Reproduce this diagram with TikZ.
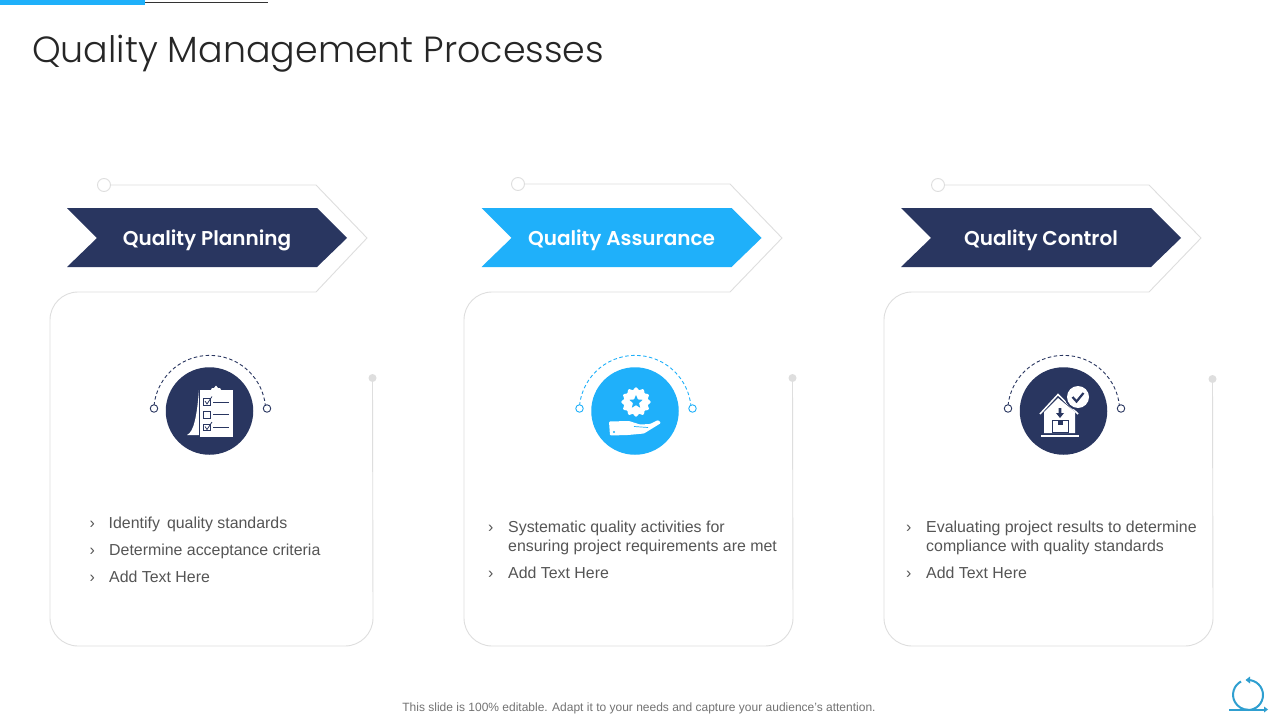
\documentclass[tikz,border=0pt]{standalone}
\usepackage{fontspec}
\setmainfont{Liberation Sans}
\newfontfamily\titlefont[UprightFont=* Light]{Poppins}
\newfontfamily\headfont[UprightFont=* SemiBold]{Poppins}
\usetikzlibrary{shapes.geometric}
\definecolor{navy}{HTML}{293660}
\definecolor{sky}{HTML}{1FB0FA}
\definecolor{cardline}{HTML}{DEDEDE}
\definecolor{bodytxt}{HTML}{555555}
\definecolor{logoblue}{HTML}{2F9FD0}
\tikzset{
  cardedge/.style={draw=cardline,line width=0.9pt,line join=miter},
  ringdot/.style={circle,draw=cardline,fill=white,line width=0.9pt,minimum size=13pt,inner sep=0pt},
  enddot/.style={circle,fill=cardline,minimum size=8pt,inner sep=0pt},
  banner/.style={line width=0pt},
  bannertxt/.style={font=\headfont\fontsize{20}{24}\selectfont,text=white,anchor=base},
  disc/.style={circle,minimum size=87.5pt,inner sep=0pt},
  arcdot/.style={circle,draw=#1,fill=white,line width=0.9pt,minimum size=7.5pt,inner sep=0pt},
  dasharc/.style={draw=#1,line width=0.9pt,dash pattern=on 3.5pt off 2.5pt},
  bodytext/.style={font=\fontsize{15.9}{19}\selectfont,text=bodytxt,anchor=base west,inner sep=0pt,align=left},
}
\newcommand{\cardpath}[8]{% left right dotY ringX ringY cornerX tipX name
  \node[enddot] (#8dot) at (#2-0.5,#3) {};
  \draw[cardedge] (#8dot.center) -- (#2,618) arc[start angle=0,end angle=90,radius=28] -- (#1+28,646)
    arc[start angle=90,end angle=180,radius=28] -- (#1,320)
    arc[start angle=180,end angle=270,radius=28] -- (#6,292) -- (#7,238) -- (#6,#5) -- (#4,#5);
  \node[ringdot] (#8ring) at (#4,#5) {};
}
\newcommand{\bannerpath}[3]{% left colour name
  \fill[#2,banner] (#1,208) -- (#1+250,208) -- (#1+280,238) -- (#1+250,267) -- (#1,267) -- (#1+30,238) -- cycle;
}
\newcommand{\iconbase}[4]{% cx colour name cy
  \node[disc,fill=#2] (#3disc) at (#1,#4) {};
  \draw[dasharc=#2] (#1-55.5,405.5) arc[start angle=186,end angle=354,radius=56];
  \node[arcdot=#2] (#3a) at (#1-55.5,408.5) {};
  \node[arcdot=#2] (#3b) at (#1+57.5,408.5) {};
}
\begin{document}
\begin{tikzpicture}[x=1pt,y=-1pt]
\useasboundingbox (0,0) rectangle (1280,720);
\fill[white] (0,0) rectangle (1280,720);
% top bar
\fill[sky] (0,0) rectangle (145,5);
\draw[black!80,line width=1pt] (145,2.5) -- (268,2.5);
\node[font=\titlefont\fontsize{36.4}{44}\selectfont,text=black!85,anchor=base west,inner sep=0pt] (title) at (32,62) {Quality Management Processes};
% cards
\cardpath{50}{373}{378}{104}{185}{316}{367}{c1}
\cardpath{464}{793}{378}{518}{184}{730}{782}{c2}
\cardpath{884}{1213}{379}{938}{185}{1149}{1201}{c3}
% banners
\bannerpath{67}{navy}{b1}
\bannerpath{481.5}{sky}{b2}
\bannerpath{901}{navy}{b3}
\node[bannertxt] (t1) at (207,245.5) {Quality Planning};
\node[bannertxt] (t2) at (621.5,245.5) {Quality Assurance};
\node[bannertxt] (t3) at (1041,245.5) {Quality Control};
% icon 1
\iconbase{209.5}{navy}{i1}{411}
\fill[white] (199,390) .. controls (197,415) and (194,432) .. (187,435) -- (199,435) -- cycle;
\fill[white] (199,390) rectangle (233,437);
\fill[white] (209,393) -- (212,388) -- (214,388) -- (216,385.5) -- (218,388) -- (220,388) -- (223,393) -- cycle;
\draw[navy,line width=0.7pt] (199,390) -- (199,437);
\draw[navy,line width=0.8pt] (203.5,398.5) rectangle (210,405) (203.5,411.5) rectangle (210,418) (203.5,424) rectangle (210,430.5);
\draw[navy,line width=0.8pt] (205,401) -- (207,404) -- (212,396.5) (205,426.5) -- (207,429.5) -- (212,422);
\draw[navy,line width=0.8pt] (213,402) -- (229,402) (213,414) -- (229,414) (213,427) -- (229,427);
% icon 2
\iconbase{635}{sky}{i2}{411}
\fill[white] plot[domain=0:360,samples=145,smooth] ({636+(13.5+1.1*cos(12*\x))*cos(\x)},{402+(13.5+1.1*cos(12*\x))*sin(\x)});
\node[star,star points=5,star point ratio=2.2,fill=sky,minimum size=14pt,inner sep=0pt] (i2star) at (636,402) {};
\fill[white,rounded corners=1pt] (609,421.5) -- (629,421) -- (640,424.5) -- (650,424) -- (658,420) -- (661,423) -- (644,433.5) -- (628,435) -- (610,435.5) -- cycle;
\fill[sky] (614,432) circle[radius=1.1];
\draw[sky,line width=0.7pt] (634,426.5) -- (648,427.5);
% icon 3
\iconbase{1063.5}{navy}{i3}{411}
\fill[white] (1044,412) -- (1058,398) -- (1075,412) -- (1075,433) -- (1044,433) -- cycle;
\draw[white,line width=1.5pt] (1040,414) -- (1058,394.5) -- (1078,414);
\draw[white,line width=1.5pt] (1041,436) -- (1079,436);
\draw[navy,line width=1pt] (1052.5,420.5) rectangle (1068,432);
\fill[navy] (1057.5,420.5) rectangle (1062.5,425);
\fill[navy] (1058.7,408) -- (1061.3,408) -- (1061.3,413) -- (1064,413) -- (1060,418) -- (1056,413) -- (1058.7,413) -- cycle;
\fill[navy] (1078,397) circle[radius=13];
\fill[white] (1078,397) circle[radius=11];
\draw[navy,line width=2.2pt] (1072.5,397) -- (1076.5,401.5) -- (1083.5,393);
% text card 1
\node[bodytext] (s1) at (89.5,528) {›};
\node[bodytext] (l1) at (108.5,528) {Identify\, quality standards};
\node[bodytext] (s2) at (89.5,555) {›};
\node[bodytext] (l2) at (109,555) {Determine acceptance criteria};
\node[bodytext] (s3) at (89.5,582) {›};
\node[bodytext] (l3) at (109,582) {Add Text Here};
% text card 2
\node[bodytext] (s4) at (488,532) {›};
\node[bodytext] (l4) at (508,532) {Systematic quality activities for};
\node[bodytext] (l5) at (508,551) {ensuring project requirements are met};
\node[bodytext] (s5) at (488,578) {›};
\node[bodytext] (l6) at (508,578) {Add Text Here};
% text card 3
\node[bodytext] (s6) at (906,532) {›};
\node[bodytext] (l7) at (926,532) {Evaluating project results to determine};
\node[bodytext] (l8) at (926,551) {compliance with quality standards};
\node[bodytext] (s7) at (906,578) {›};
\node[bodytext] (l9) at (926,578) {Add Text Here};
% footer
\node[font=\fontsize{12}{14}\selectfont,text=black!55,anchor=base,inner sep=0pt] (foot) at (639,711.5) {This slide is 100\% editable. Adapt it to your needs and capture your audience's attention.};
% logo
\draw[logoblue,line width=2pt] (1241,681.5) arc[start angle=-118,end angle=-270,radius=15];
\draw[logoblue,line width=2pt] (1248,680) arc[start angle=-90,end angle=90,radius=15];
\draw[logoblue,line width=2pt] (1229,709.5) -- (1265,709.5);
\fill[logoblue] (1268,709.5) -- (1264,706.5) -- (1264,712.5) -- cycle;
\fill[logoblue] (1245.5,680) -- (1250,676.5) -- (1250,683.5) -- cycle;
\end{tikzpicture}
\end{document}
